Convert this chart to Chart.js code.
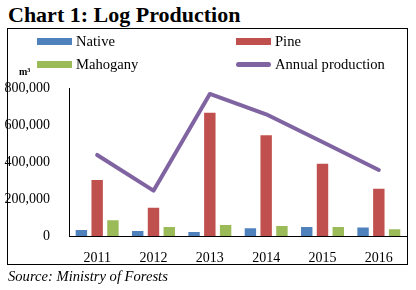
<!DOCTYPE html>
<html lang="en">
<head>
    <meta charset="UTF-8">
    <title>Log Production</title>
    <script src="https://cdn.jsdelivr.net/npm/chart.js"></script>
    <style>
        body { margin: 0; background: #fff; font-family: 'Liberation Serif', serif; }
        #wrap { position: relative; width: 416px; height: 290px; }
        #title { position: absolute; left: 8px; top: 2px; font-size: 22px; font-weight: bold; }
        #box { position: absolute; left: 7px; top: 28px; width: 399px; height: 235px; border: 1px solid #000; }
        #chart { position: absolute; left: 0; top: 0; }
        .leg { position: absolute; font-size: 14.6px; line-height: 16px; }
        .sw { position: absolute; width: 35px; height: 7px; }
        #unit { position: absolute; left: 19px; top: 66px; font-size: 10px; font-weight: bold; }
        #source { position: absolute; left: 8px; top: 268px; font-size: 14.6px; font-style: italic; }
    </style>
</head>
<body>
<div id="wrap">
    <div id="title">Chart 1: Log Production</div>
    <div id="box"></div>
    <canvas id="chart" width="416" height="290"></canvas>
    <div class="sw" style="left:37px;top:38px;background:#4F81BD"></div>
    <div class="leg" style="left:76px;top:33px">Native</div>
    <div class="sw" style="left:236px;top:38px;background:#C0504D"></div>
    <div class="leg" style="left:275px;top:33px">Pine</div>
    <div class="sw" style="left:37px;top:61px;background:#9BBB59"></div>
    <div class="leg" style="left:76px;top:56px">Mahogany</div>
    <div class="sw" style="left:236px;top:62px;height:5px;border-radius:3px;background:#8064A2"></div>
    <div class="leg" style="left:275px;top:56px">Annual production</div>
    <div id="unit">m&sup3;</div>
    <div id="source">Source: Ministry of Forests</div>
</div>

<script>
    var years = ['2011', '2012', '2013', '2014', '2015', '2016'];
    var native = [38000, 32000, 27000, 47000, 54000, 52000];
    var pine = [308000, 158000, 672000, 550000, 396000, 261000];
    var mahogany = [90000, 54000, 65000, 60000, 54000, 42000];
    var annual = [438000, 245000, 768000, 658000, 508000, 357000];
    var yTicks = [0, 200000, 400000, 600000, 800000];

    var font = { family: 'Liberation Serif', size: 14 };

    function barSet(label, data, color) {
        return {
            type: 'bar',
            label: label,
            data: data,
            backgroundColor: color,
            borderColor: 'rgba(255,255,255,0.55)',
            borderWidth: 1,
            categoryPercentage: 0.84,
            barPercentage: 0.85,
            order: 2
        };
    }

    new Chart(document.getElementById('chart').getContext('2d'), {
        data: {
            labels: years,
            datasets: [
                barSet('Native', native, '#4F81BD'),
                barSet('Pine', pine, '#C0504D'),
                barSet('Mahogany', mahogany, '#9BBB59'),
                {
                    type: 'line',
                    label: 'Annual production',
                    data: annual,
                    borderColor: '#8064A2',
                    borderWidth: 4,
                    pointRadius: 0,
                    tension: 0,
                    borderCapStyle: 'round',
                    borderJoinStyle: 'round',
                    order: 1
                }
            ]
        },
        options: {
            responsive: false,
            animation: false,
            layout: { padding: { top: 88, right: 9, left: 0, bottom: 0 } },
            plugins: { legend: { display: false }, tooltip: { enabled: false } },
            scales: {
                x: {
                    grid: { display: false },
                    border: { display: true, color: '#000', width: 1 },
                    ticks: { color: '#000', font: font, padding: 6 },
                    afterFit: function (s) { s.height = 54; }
                },
                y: {
                    min: 0,
                    max: 800000,
                    grid: { display: false },
                    border: { display: true, color: '#000', width: 1 },
                    afterBuildTicks: function (s) { s.ticks = yTicks.map(function (v) { return { value: v }; }); },
                    ticks: {
                        color: '#000',
                        font: font,
                        padding: 11,
                        callback: function (v) { return v.toLocaleString('en-US'); }
                    },
                    afterFit: function (s) { s.width = 69; }
                }
            }
        }
    });
</script>
</body>
</html>
